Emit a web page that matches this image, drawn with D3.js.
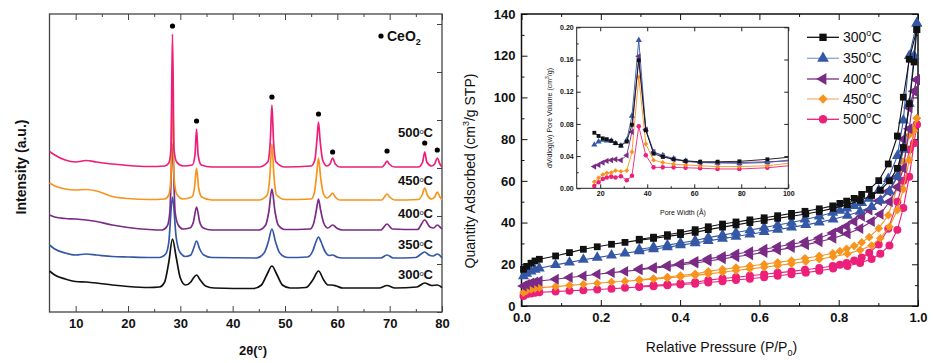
<!DOCTYPE html>
<html>
<head>
<meta charset="utf-8">
<script src="https://cdnjs.cloudflare.com/ajax/libs/d3/7.8.5/d3.min.js"></script>
<style>
  body { margin: 0; background: #fff; }
  svg { display: block; font-family: "Liberation Sans", Arial, sans-serif; }
</style>
</head>
<body>
<svg id="chart" width="933" height="363"></svg>
<script>

// ======================================
// XRD patterns, [2theta, intensity (a.u.)], stacked by temperature
var xrdTemps = ['300', '350', '400', '450', '500'];

var xrd300 = [[5,41],[6,37],[8,33],[10,30.5],[12,30],[14,29],[17,27],[20,25.5],[24,24.5],[26,25],
  [27,30],[27.8,50],[28.5,73],[29.2,55],[30,34],[31,27],[32,30],[32.5,34],[33.1,37],[33.8,32],
  [34.8,26],[36.5,24],[44,23.5],[45.5,27],[46.6,38],[47.5,46],[48.4,38],[49.5,27],[51,24],[54,24.5],
  [55.3,32],[56.4,41],[57.4,32],[58.2,27],[59,27],[59.8,26],[61,24],[68,24],[69.5,26.5],[71,24],
  [75.2,25],[76.7,29],[78,26.5],[79.1,27],[80,24.5]];

var xrd350 = [[5,67],[6,63],[8,59],[10,57],[12,58],[14,57],[17,55.5],[20,55],[24,54.5],[26,54.5],
  [27.2,58],[27.8,70],[28.5,115],[29.2,75],[29.9,60],[31,55.5],[32,57],[32.5,63],[33.1,71],[33.7,63],
  [34.5,57],[36,54.5],[44.5,54],[46,59],[46.8,70],[47.5,83],[48.2,70],[49,59],[50.5,54.5],[54.3,55],
  [55.3,61],[55.9,70],[56.4,75],[56.9,70],[57.6,61],[58.4,56.5],[59.1,57],[59.9,55],[61,54],[68.3,54],
  [69.5,57],[70.7,54],[75,54.5],[76,58],[76.7,60],[77.5,57],[78.3,56],[79.1,58],[79.7,56],[80,54]];

var xrd400 = [[5,97],[6,95],[8,93.5],[10,93],[12,92],[14,90.5],[17,87],[20,84.5],[24,82.5],[26.5,82],
  [27.5,86],[28,100],[28.5,168],[29,100],[29.6,87],[30.5,83],[31.8,84],[32.5,90],[33.1,105],[33.7,90],
  [34.4,84],[36,82],[45,82],[46.3,87],[46.9,100],[47.5,123],[48.1,100],[48.7,87],[50,82.5],[54.8,83],
  [55.5,89],[56,102],[56.4,113],[56.8,102],[57.4,89],[58.2,84],[59.1,87],[60,83.5],[61,82],[68.3,82],
  [69.5,88],[70.5,83],[75.3,82.5],[76.7,92],[77.7,85],[78.4,84],[79.1,87],[79.7,84.5],[80,83]];

var xrd450 = [[5,129],[6,126],[8,123],[10,122],[12,122.5],[14,121],[17,115.5],[20,113.5],[24,112.5],[27,113],
  [27.8,117],[28.2,135],[28.5,230],[28.8,135],[29.3,118],[30.5,113],[32.2,115],[32.7,124],[33.1,144],[33.5,124],
  [34.1,115],[36,112],[45,112],[46.6,117],[47.1,135],[47.5,168],[47.9,135],[48.4,117],[50,112.5],[55,113],
  [55.6,119],[56,135],[56.4,154],[56.8,135],[57.3,119],[58,114],[58.6,116],[59.1,119],[59.6,115],[60.5,112],
  [68.5,112],[69,115],[69.5,118],[70,115],[71,112],[75.5,112.5],[76.2,117],[76.7,124],[77.2,117],[78,113],
  [78.6,115],[79.1,120],[79.6,115],[80,112]];

var xrd500 = [[5,160.5],[6,157],[8,152],[10,150],[12,151.5],[14,150],[17,148],[20,146.5],[24,145.5],[27,146],
  [27.8,149],[28.2,162],[28.5,278],[28.8,162],[29.3,150],[30.5,146],[32.3,147],[32.8,157],[33.1,183],[33.4,157],
  [34,147],[36,145],[45,145],[46.7,150],[47.2,172],[47.5,207],[47.8,172],[48.3,150],[50,145],[55,146],
  [55.7,152],[56.1,172],[56.4,190],[56.7,172],[57.2,152],[58,146],[58.6,148],[59.1,154],[59.6,148],[60.5,145],
  [68.5,145],[69.1,148],[69.5,151],[69.9,148],[71,145],[75.5,145],[76.3,150],[76.7,160],[77.1,150],[78,146],
  [78.6,148],[79.1,154],[79.6,148],[80,145]];

// CeO2 reflections marked above the 500 C pattern
var ceo2Theta = [28.5, 33.1, 47.5, 56.4, 59.1, 69.5, 76.7, 79.1];
var ceo2Level = [286, 191, 215, 198, 160, 161, 169, 162];

// ======================================
// N2 isotherms, adsorption and desorption branches
var isoTemps = ['300', '350', '400', '450', '500'];

var adsP = [0.005, 0.013, 0.024, 0.034, 0.045, 0.086, 0.121, 0.156, 0.191, 0.227, 0.261, 0.297,
  0.333, 0.368, 0.401, 0.438, 0.471, 0.507, 0.541, 0.576, 0.612, 0.646, 0.681, 0.717,
  0.751, 0.786, 0.822, 0.854, 0.883, 0.905, 0.928, 0.948, 0.963, 0.978, 0.99, 0.997];

var ads300 = [17.6, 19.0, 20.5, 21.6, 22.4, 24.0, 25.6, 27.2, 28.4, 29.6, 30.5, 31.6, 32.4, 33.4, 34.2, 35.3, 36.6, 37.8,
  38.9, 40.0, 41.0, 42.0, 43.0, 44.1, 45.3, 46.8, 48.6, 50.6, 53.0, 55.5, 60.0, 66.0, 76.0, 97.0, 117.0, 132.5];
var ads350 = [14.4, 15.6, 16.6, 17.4, 18.1, 19.7, 20.9, 22.2, 23.2, 24.3, 25.3, 26.3, 27.3, 28.2, 29.2, 30.2, 31.3, 32.3,
  33.3, 34.4, 35.5, 36.6, 37.7, 38.9, 40.1, 41.6, 43.4, 45.3, 47.6, 50.5, 55.0, 62.0, 75.0, 97.0, 120.0, 135.5];
var ads400 = [9.6, 10.3, 11.0, 11.5, 12.0, 12.8, 13.7, 14.4, 15.2, 16.0, 16.6, 17.4, 18.1, 18.9, 19.7, 20.6, 21.6, 22.6,
  23.6, 24.6, 25.7, 26.8, 28.0, 29.3, 30.8, 32.5, 34.6, 37.2, 40.5, 44.0, 50.0, 57.0, 66.0, 85.0, 103.0, 108.5];
var ads450 = [6.4, 7.3, 7.9, 8.4, 8.8, 9.3, 9.9, 10.4, 10.9, 11.5, 11.9, 12.4, 12.9, 13.4, 14.0, 14.7, 15.4, 16.2,
  17.0, 17.8, 18.6, 19.4, 20.3, 21.3, 22.4, 23.6, 25.0, 26.8, 29.0, 32.5, 38.0, 46.0, 56.0, 70.0, 84.0, 90.0];
var ads500 = [4.8, 5.6, 6.0, 6.3, 6.6, 6.9, 7.3, 7.6, 7.9, 8.3, 8.7, 9.1, 9.5, 9.9, 10.3, 10.7, 11.3, 11.9,
  12.5, 13.1, 13.8, 14.5, 15.2, 16.0, 16.9, 18.0, 19.2, 20.6, 22.5, 25.0, 29.0, 36.5, 47.0, 62.0, 78.0, 87.0];

var desP = [0.997, 0.978, 0.963, 0.948, 0.925, 0.901, 0.877, 0.858, 0.839, 0.82, 0.803, 0.785, 0.751,
  0.715, 0.681, 0.646, 0.612, 0.576, 0.541, 0.507, 0.471, 0.438, 0.401, 0.368, 0.333, 0.297];

var des300 = [132.5, 118.3, 100.1, 81.5, 68.1, 60.1, 55.9, 53.5, 51.6, 50.3, 49.2, 48.0, 46.6,
  45.4, 44.4, 43.3, 42.3, 41.3, 40.3, 39.3, 38.0, 36.6, 35.2, 34.2, 33.0, 32.0];
var des350 = [135.5, 120.0, 89.0, 72.0, 61.0, 55.5, 51.5, 49.5, 48.0, 46.8, 45.8, 44.8, 43.0,
  41.5, 40.0, 38.8, 37.6, 36.4, 35.2, 34.0, 32.8, 31.4, 30.2, 29.2, 28.2, 27.2];
var des400 = [108.5, 95.0, 80.0, 62.0, 55.0, 50.5, 46.0, 43.0, 40.5, 38.2, 36.5, 35.0, 32.6,
  30.8, 29.6, 28.4, 27.2, 26.0, 24.9, 23.8, 22.6, 21.4, 20.3, 19.4, 18.5, 17.7];
var des450 = [90.0, 82.0, 69.0, 57.0, 43.5, 37.2, 33.0, 30.5, 28.8, 27.4, 26.3, 25.3, 24.0,
  22.9, 21.8, 20.9, 20.0, 19.2, 18.4, 17.6, 16.6, 15.4, 14.6, 13.9, 13.2, 12.7];
var des500 = [87.0, 75.0, 60.0, 50.0, 37.0, 29.5, 25.5, 23.3, 21.8, 20.6, 19.8, 19.2, 18.2,
  17.4, 16.6, 15.9, 15.2, 14.5, 13.8, 13.2, 12.4, 11.4, 10.8, 10.3, 9.9, 9.5];

// ======================================
// inset: pore size distribution
var poreWidth = [17.5, 19.3, 21.1, 22.8, 24.7, 26.5, 28.8, 31.3, 33.5, 36.4, 39.4, 42.7, 46.6, 51.2, 56.3, 62.5, 69.9, 79.2, 91.1, 100];
var psd300 = [0.069, 0.065, 0.062, 0.061, 0.059, 0.056, 0.053, 0.058, 0.079, 0.159, 0.072, 0.043, 0.039, 0.036, 0.034, 0.033, 0.033, 0.0335, 0.036, 0.0385];
var psd350 = [0.054, 0.058, 0.060, 0.059, 0.059, 0.056, 0.053, 0.060, 0.090, 0.184, 0.073, 0.045, 0.041, 0.037, 0.034, 0.032, 0.0315, 0.031, 0.032, 0.035];
var psd400 = [0.027, 0.029, 0.032, 0.034, 0.035, 0.036, 0.035, 0.041, 0.070, 0.164, 0.073, 0.045, 0.040, 0.036, 0.0335, 0.032, 0.032, 0.032, 0.033, 0.034];
var psd450 = [0.008, 0.013, 0.017, 0.019, 0.0195, 0.022, 0.021, 0.022, 0.045, 0.138, 0.055, 0.035, 0.032, 0.030, 0.029, 0.028, 0.027, 0.027, 0.028, 0.031];
var psd500 = [0.003, 0.0075, 0.0115, 0.0135, 0.0145, 0.0135, 0.015, 0.010, 0.0155, 0.077, 0.041, 0.026, 0.026, 0.026, 0.0255, 0.025, 0.024, 0.024, 0.0255, 0.028];

// styles, in temperature order
var colors = ['#111111', '#3558a6', '#7a2b85', '#f7941d', '#ec1f79'];
var legendLine = ['#111111', '#8aa4da', '#7a2b85', '#f9b37a', '#ec1f79'];


var svg = d3.select('#chart');

/* ======================================
 * Small helper: draw ticks along one side, with or without labels
 */
function ticks(g, axis, transform) {
  var t = g.append('g').attr('transform', transform).call(axis);
  t.select('.domain').remove();
  return t;
}

/* ======================================
 * Left panel: XRD
 */
var xr = { left: 49.5, right: 442, top: 14, bottom: 312 };
var xX = d3.scaleLinear().domain([5, 80]).range([xr.left, xr.right]);
var xY = d3.scaleLinear().domain([0, 298]).range([xr.bottom, xr.top]);

var left = svg.append('g');

ticks(left, d3.axisBottom(xX).tickValues(d3.range(10, 81, 10)).tickSize(-6).tickPadding(7).tickFormat(d3.format('d')),
  'translate(0,' + xr.bottom + ')')
  .selectAll('text').style('font-size', '13px').style('font-weight', 'bold').attr('fill', '#111');
ticks(left, d3.axisBottom(xX).tickValues(d3.range(15, 80, 10)).tickSize(-3).tickFormat(''), 'translate(0,' + xr.bottom + ')');
ticks(left, d3.axisTop(xX).tickValues(d3.range(10, 81, 10)).tickSize(-6).tickFormat(''), 'translate(0,' + xr.top + ')');
ticks(left, d3.axisTop(xX).tickValues(d3.range(15, 80, 10)).tickSize(-3).tickFormat(''), 'translate(0,' + xr.top + ')');
ticks(left, d3.axisRight(xY).tickValues(d3.range(0, 298, 48)).tickSize(-5).tickFormat(''), 'translate(' + xr.right + ',0)');
left.selectAll('.tick line').attr('stroke', '#444');

left.append('rect')
  .attr('x', xr.left).attr('y', xr.top)
  .attr('width', xr.right - xr.left).attr('height', xr.bottom - xr.top)
  .attr('fill', 'none').attr('stroke', '#444').attr('stroke-width', 1.3);

var xrdLine = d3.line()
  .x(function(d) { return xX(d[0]); })
  .y(function(d) { return xY(d[1]); })
  .curve(d3.curveMonotoneX);

[xrd300, xrd350, xrd400, xrd450, xrd500].forEach(function(series, i) {
  left.append('path')
    .attr('d', xrdLine(series))
    .attr('fill', 'none')
    .attr('stroke', colors[i])
    .attr('stroke-width', 1.7)
    .attr('stroke-linejoin', 'round');
});

left.selectAll('circle.peak')
  .data(ceo2Theta)
  .enter().append('circle')
  .attr('class', 'peak')
  .attr('cx', function(d) { return xX(d); })
  .attr('cy', function(d, i) { return xY(ceo2Level[i]); })
  .attr('r', 2.6)
  .attr('fill', '#000');

// temperature labels, baseline offset above each trace (a.u.)
var labelLevel = [33.5, 63.5, 94.5, 127.5, 175.5];
xrdTemps.forEach(function(t, i) {
  var txt = left.append('text')
    .attr('x', 433).attr('y', xY(labelLevel[i]))
    .attr('text-anchor', 'end')
    .style('font-size', '13px').style('font-weight', 'bold').attr('fill', '#111');
  txt.append('tspan').text(t);
  txt.append('tspan').text('o').style('font-size', '7px').style('font-weight', 'normal').attr('dy', -3);
  txt.append('tspan').text('C').attr('dy', 3);
});

// CeO2 key
left.append('circle').attr('cx', 381).attr('cy', 36).attr('r', 2.6).attr('fill', '#000');
var key = left.append('text').attr('x', 387).attr('y', 40.5)
  .style('font-size', '14px').style('font-weight', 'bold').attr('fill', '#111');
key.append('tspan').text('CeO');
key.append('tspan').text('2').style('font-size', '9px').attr('dy', 4);

left.append('text')
  .attr('x', 253).attr('y', 355)
  .attr('text-anchor', 'middle')
  .style('font-size', '13px').style('font-weight', 'bold').attr('fill', '#111')
  .text('2θ(°)');

left.append('text')
  .attr('transform', 'translate(26,167) rotate(-90)')
  .attr('text-anchor', 'middle')
  .style('font-size', '14px').style('font-weight', 'bold').attr('fill', '#111')
  .text('Intensity (a.u.)');

/* ======================================
 * Right panel: isotherms
 */
var ir = { left: 521.5, right: 918, top: 14, bottom: 306 };
var iX = d3.scaleLinear().domain([0, 1]).range([ir.left, ir.right]);
var iY = d3.scaleLinear().domain([0, 140]).range([ir.bottom, ir.top]);

var right = svg.append('g');

ticks(right, d3.axisBottom(iX).tickValues(d3.range(0, 1.01, 0.2)).tickSize(-6).tickPadding(7).tickFormat(d3.format('.1f')),
  'translate(0,' + ir.bottom + ')')
  .selectAll('text').style('font-size', '13px').style('font-weight', 'bold').attr('fill', '#111');
ticks(right, d3.axisBottom(iX).tickValues(d3.range(0.1, 1, 0.2)).tickSize(-3).tickFormat(''), 'translate(0,' + ir.bottom + ')');
ticks(right, d3.axisTop(iX).tickValues(d3.range(0, 1.01, 0.2)).tickSize(-6).tickFormat(''), 'translate(0,' + ir.top + ')');
ticks(right, d3.axisTop(iX).tickValues(d3.range(0.1, 1, 0.2)).tickSize(-3).tickFormat(''), 'translate(0,' + ir.top + ')');
ticks(right, d3.axisLeft(iY).tickValues(d3.range(0, 141, 20)).tickSize(-6).tickPadding(6).tickFormat(d3.format('d')),
  'translate(' + ir.left + ',0)')
  .selectAll('text').style('font-size', '13px').style('font-weight', 'bold').attr('fill', '#111');
ticks(right, d3.axisLeft(iY).tickValues(d3.range(10, 140, 20)).tickSize(-3).tickFormat(''), 'translate(' + ir.left + ',0)');
ticks(right, d3.axisRight(iY).tickValues(d3.range(0, 141, 20)).tickSize(-6).tickFormat(''), 'translate(' + ir.right + ',0)');
ticks(right, d3.axisRight(iY).tickValues(d3.range(10, 140, 20)).tickSize(-3).tickFormat(''), 'translate(' + ir.right + ',0)');
right.selectAll('.tick line').attr('stroke', '#111');

right.append('rect')
  .attr('x', ir.left).attr('y', ir.top)
  .attr('width', ir.right - ir.left).attr('height', ir.bottom - ir.top)
  .attr('fill', 'none').attr('stroke', '#111').attr('stroke-width', 1.5);

var diamond = d3.symbolDiamond2 || d3.symbolDiamond;
var shapes = [
  { type: d3.symbolSquare, size: 46, rot: 0 },
  { type: d3.symbolTriangle, size: 52, rot: 0 },
  { type: d3.symbolTriangle, size: 52, rot: -90 },
  { type: diamond, size: 48, rot: 0 },
  { type: d3.symbolCircle, size: 50, rot: 0 }
];

var adsSeries = [ads300, ads350, ads400, ads450, ads500];
var desSeries = [des300, des350, des400, des450, des500];

var isoLine = d3.line()
  .x(function(d) { return iX(d[0]); })
  .y(function(d) { return iY(d[1]); });

// draw 500 first so the black 300 trace lands on top
[4, 3, 2, 1, 0].forEach(function(i) {
  var ads = d3.zip(adsP, adsSeries[i]);
  var des = d3.zip(desP, desSeries[i]);
  var g = right.append('g');

  [ads, des].forEach(function(branch) {
    g.append('path')
      .attr('d', isoLine(branch))
      .attr('fill', 'none')
      .attr('stroke', colors[i])
      .attr('stroke-width', 1.1);
  });

  var sym = d3.symbol().type(shapes[i].type).size(shapes[i].size);
  g.selectAll('path.mk')
    .data(ads.concat(des))
    .enter().append('path')
    .attr('class', 'mk')
    .attr('d', sym)
    .attr('transform', function(d) {
      return 'translate(' + iX(d[0]) + ',' + iY(d[1]) + ') rotate(' + shapes[i].rot + ')';
    })
    .attr('fill', colors[i]);
});

// legend
var legRowY = [37.3, 58.3, 79, 99, 119.3];
isoTemps.forEach(function(t, i) {
  var row = right.append('g').attr('transform', 'translate(0,' + legRowY[i] + ')');
  row.append('line')
    .attr('x1', 807).attr('x2', 839).attr('y1', 0).attr('y2', 0)
    .attr('stroke', legendLine[i]).attr('stroke-width', 1.3);
  row.append('path')
    .attr('d', d3.symbol().type(shapes[i].type).size(shapes[i].size + 8))
    .attr('transform', 'translate(823,0) rotate(' + shapes[i].rot + ')')
    .attr('fill', colors[i]);
  var txt = row.append('text').attr('x', 843).attr('y', 5)
    .style('font-size', '14px').attr('fill', '#111');
  txt.append('tspan').text(t);
  txt.append('tspan').text('o').style('font-size', '9px').attr('dy', -6);
  txt.append('tspan').text('C').attr('dy', 6);
});

var xt = right.append('text')
  .attr('x', 721.5).attr('y', 352)
  .attr('text-anchor', 'middle')
  .style('font-size', '14px').attr('fill', '#111');
xt.append('tspan').text('Relative Pressure (P/P');
xt.append('tspan').text('0').style('font-size', '9px').attr('dy', 4);
xt.append('tspan').text(')').attr('dy', -4);

var yt = right.append('text')
  .attr('transform', 'translate(475,171) rotate(-90)')
  .attr('text-anchor', 'middle')
  .style('font-size', '14px').attr('fill', '#111');
yt.append('tspan').text('Quantity Adsorbed (cm');
yt.append('tspan').text('3').style('font-size', '9px').attr('dy', -6);
yt.append('tspan').text('/g STP)').attr('dy', 6);

/* ======================================
 * Inset: pore size distribution
 */
var pr = { left: 576.7, right: 788.3, top: 27.3, bottom: 188.3 };
var pX = d3.scaleLinear().domain([10, 100]).range([pr.left, pr.right]);
var pY = d3.scaleLinear().domain([0, 0.2]).range([pr.bottom, pr.top]);

var inset = svg.append('g');

inset.append('rect')
  .attr('x', pr.left).attr('y', pr.top)
  .attr('width', pr.right - pr.left).attr('height', pr.bottom - pr.top)
  .attr('fill', '#fff');

ticks(inset, d3.axisBottom(pX).tickValues(d3.range(20, 101, 20)).tickSize(-4).tickPadding(3).tickFormat(d3.format('d')),
  'translate(0,' + pr.bottom + ')')
  .selectAll('text').style('font-size', '7px').style('font-weight', 'bold').attr('fill', '#111');
ticks(inset, d3.axisBottom(pX).tickValues(d3.range(30, 100, 20)).tickSize(-2).tickFormat(''), 'translate(0,' + pr.bottom + ')');
ticks(inset, d3.axisTop(pX).tickValues(d3.range(20, 101, 20)).tickSize(-4).tickFormat(''), 'translate(0,' + pr.top + ')');
ticks(inset, d3.axisLeft(pY).tickValues(d3.range(0, 0.201, 0.04)).tickSize(-4).tickPadding(3).tickFormat(d3.format('.2f')),
  'translate(' + pr.left + ',0)')
  .selectAll('text').style('font-size', '7px').style('font-weight', 'bold').attr('fill', '#111');
ticks(inset, d3.axisLeft(pY).tickValues(d3.range(0.02, 0.2, 0.04)).tickSize(-2).tickFormat(''), 'translate(' + pr.left + ',0)');
ticks(inset, d3.axisRight(pY).tickValues(d3.range(0, 0.201, 0.04)).tickSize(-4).tickFormat(''), 'translate(' + pr.right + ',0)');
inset.selectAll('.tick line').attr('stroke', '#222');

var psdSeries = [psd300, psd350, psd400, psd450, psd500];
var psdLine = d3.line()
  .x(function(d) { return pX(d[0]); })
  .y(function(d) { return pY(d[1]); });

[4, 3, 2, 1, 0].forEach(function(i) {
  var pts = d3.zip(poreWidth, psdSeries[i]);
  var g = inset.append('g');
  g.append('path')
    .attr('d', psdLine(pts))
    .attr('fill', 'none')
    .attr('stroke', colors[i])
    .attr('stroke-width', 0.9);
  var sym = d3.symbol().type(shapes[i].type).size(shapes[i].size * 0.32);
  g.selectAll('path.mk')
    .data(pts.filter(function(d) { return d[0] < 98; }))
    .enter().append('path')
    .attr('class', 'mk')
    .attr('d', sym)
    .attr('transform', function(d) {
      return 'translate(' + pX(d[0]) + ',' + pY(d[1]) + ') rotate(' + shapes[i].rot + ')';
    })
    .attr('fill', colors[i]);
});

inset.append('rect')
  .attr('x', pr.left).attr('y', pr.top)
  .attr('width', pr.right - pr.left).attr('height', pr.bottom - pr.top)
  .attr('fill', 'none').attr('stroke', '#222').attr('stroke-width', 1);

inset.append('text')
  .attr('x', 683).attr('y', 215)
  .attr('text-anchor', 'middle')
  .style('font-size', '7px').attr('fill', '#111')
  .text('Pore Width (Å)');

var pyt = inset.append('text')
  .attr('transform', 'translate(551.5,118) rotate(-90)')
  .attr('text-anchor', 'middle')
  .style('font-size', '7px').attr('fill', '#111');
pyt.append('tspan').text('dV/dlog(w) Pore Volume (cm');
pyt.append('tspan').text('3').style('font-size', '5px').attr('dy', -3);
pyt.append('tspan').text('/g)').attr('dy', 3);

</script>
</body>
</html>
